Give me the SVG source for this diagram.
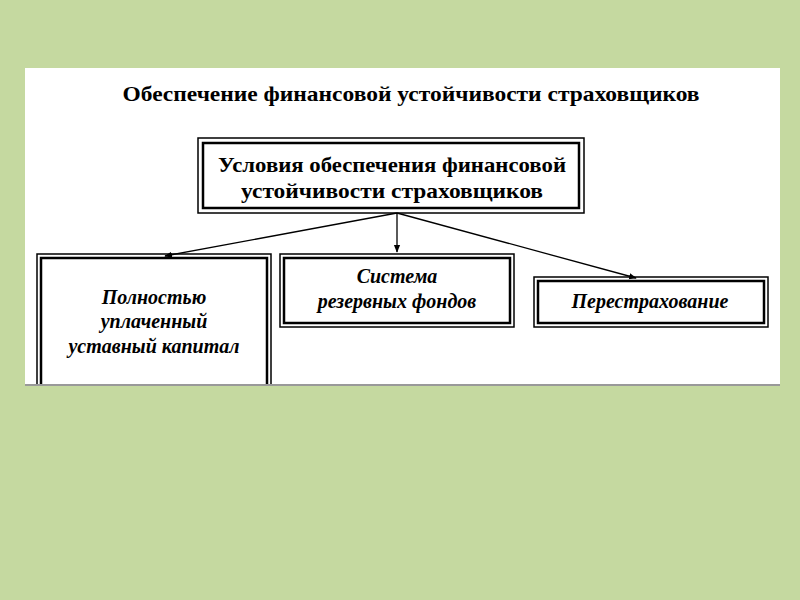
<svg xmlns="http://www.w3.org/2000/svg" width="800" height="600" viewBox="0 0 800 600">
<style>
.o{fill:none;stroke:#000;stroke-width:1.5}
.i{fill:none;stroke:#000;stroke-width:2.5}
.t{font-family:"Liberation Serif",serif;font-weight:bold;fill:#000}
.it{font-family:"Liberation Serif",serif;font-weight:bold;font-style:italic;fill:#000;font-size:20px}
.c{stroke:#000;stroke-width:1.3;fill:none}
</style>
<defs><marker id="a" viewBox="0 0 10 10" refX="9" refY="5" markerWidth="6" markerHeight="6" orient="auto"><path d="M0,1L10,5L0,9z"/></marker></defs>
<rect width="800" height="600" fill="#c5d9a0"/>
<rect x="25" y="68" width="755" height="316" fill="#fff"/>
<line x1="25" y1="385" x2="780" y2="385" stroke="#999" stroke-width="2"/>
<text class="t" x="411" y="101" font-size="21" text-anchor="middle" textLength="577" lengthAdjust="spacingAndGlyphs">Обеспечение финансовой устойчивости страховщиков</text>
<g id="top"><rect class="o" x="198" y="138" width="386" height="75" fill="#fff"/><rect class="i" x="203" y="143" width="376" height="65"/>
<text class="t" font-size="22" text-anchor="middle" x="392" y="172" textLength="348" lengthAdjust="spacingAndGlyphs">Условия обеспечения финансовой</text>
<text class="t" font-size="22" text-anchor="middle" x="392" y="198" textLength="302" lengthAdjust="spacingAndGlyphs">устойчивости страховщиков</text></g>
<g id="connectors">
<line class="c" x1="397" y1="213" x2="165" y2="256" marker-end="url(#a)"/>
<line class="c" x1="397" y1="213" x2="397" y2="252" marker-end="url(#a)"/>
<line class="c" x1="397" y1="213" x2="636" y2="278" marker-end="url(#a)"/>
</g>
<g id="n1"><path class="o" d="M37,384V254H271V384"/><path class="i" d="M41,384V258H267V384"/>
<text class="it" text-anchor="middle" x="154" y="304">Полностью</text>
<text class="it" text-anchor="middle" x="154" y="328">уплаченный</text>
<text class="it" text-anchor="middle" x="154" y="353">уставный капитал</text></g>
<g id="n2"><rect class="o" x="280" y="254" width="234" height="73"/><rect class="i" x="284" y="258" width="226" height="65"/>
<text class="it" text-anchor="middle" x="397" y="283">Система</text>
<text class="it" text-anchor="middle" x="397" y="308">резервных фондов</text></g>
<g id="n3"><rect class="o" x="534" y="277" width="234" height="50"/><rect class="i" x="538" y="281" width="226" height="42"/>
<text class="it" text-anchor="middle" x="650" y="308">Перестрахование</text></g>
</svg>
